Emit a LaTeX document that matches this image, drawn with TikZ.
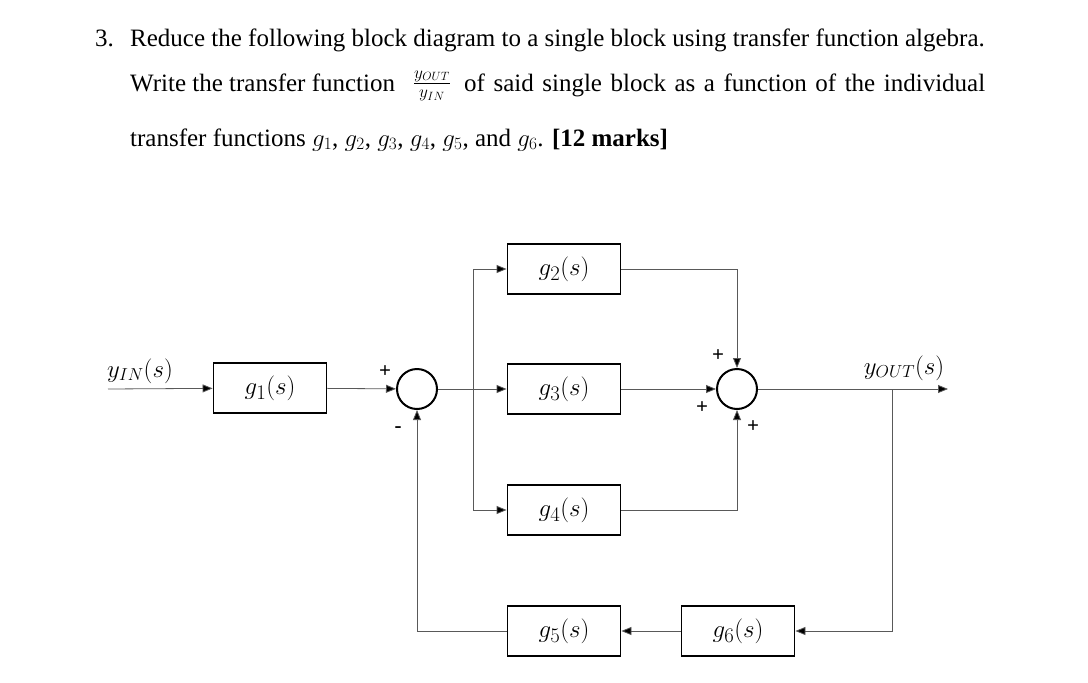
\documentclass[tikz,border=0pt]{standalone}
\usepackage{fontspec}
\setmainfont{Liberation Serif}
\usepackage{amsmath}
\usetikzlibrary{arrows.meta}
\begin{document}
\begin{tikzpicture}[x=1pt,y=-1pt,
  blk/.style={draw,line width=1.8pt,minimum width=113pt,minimum height=50pt,font=\fontsize{29}{32}\selectfont},
  sum/.style={draw,circle,line width=2pt,minimum size=40pt,inner sep=0pt},
  ln/.style={draw=black!65,line width=0.8pt},
  ar/.style={ln,-{Triangle[length=10pt,width=8pt,fill=black]}},
  sg/.style={font=\fontsize{21}{22}\selectfont\bfseries},
  tx/.style={anchor=base west,inner sep=0pt,font=\fontsize{25}{28}\selectfont}]
\useasboundingbox (0,0) rectangle (1088,683);
\node[tx] (t0) at (95,46) {3.};
\node[tx] (t1) at (130,46) {Reduce the following block diagram to a single block using transfer function algebra.};
\node[tx] (t2) at (130,91) {Write the transfer function};
\node[inner sep=0pt,font=\fontsize{26}{28}\selectfont] (fr) at (432,86) {$\frac{y_{OUT}}{y_{IN}}$};
\node[tx] (t3) at (464,91) {\makebox[521pt][s]{of said single block as a function of the individual}};
\node[tx] (t4) at (130,146) {transfer functions $g_1$, $g_2$, $g_3$, $g_4$, $g_5$, and $g_6$. \textbf{[12 marks]}};

\node[blk] (g1) at (270,388) {$g_1(s)$};
\node[blk] (g2) at (564,269) {$g_2(s)$};
\node[blk] (g3) at (564,389) {$g_3(s)$};
\node[blk] (g4) at (564,510) {$g_4(s)$};
\node[blk] (g5) at (564,631) {$g_5(s)$};
\node[blk] (g6) at (738,631) {$g_6(s)$};
\node[sum] (s1) at (417,389) {};
\node[sum] (s2) at (737,389) {};
\coordinate (in) at (108,389);
\coordinate (out) at (948,389);
\coordinate (br) at (473,389);
\coordinate (fb) at (892,389);
\node[font=\fontsize{27}{30}\selectfont] (yin) at (140,371) {$y_{IN}(s)$};
\node[font=\fontsize{27}{30}\selectfont] (yout) at (904,368) {$y_{OUT}(s)$};

\draw[ar] (in) -- (g1);
\draw[ar] (g1) -- (s1);
\draw[ar] (s1) -- (g3);
\draw[ln] (br|-g2) -- (br|-g4);
\draw[ar] (br|-g2) -- (g2);
\draw[ar] (br|-g4) -- (g4);
\draw[ar] (g2.east) -| (s2.north);
\draw[ar] (g3) -- (s2);
\draw[ar] (g4.east) -| (s2.south);
\draw[ar] (s2) -- (out);
\draw[ar] (fb) |- (g6.east);
\draw[ar] (g6) -- (g5);
\draw[ar] (g5.west) -| (s1.south);

\node[sg] (p1) at (385,372) {+};
\node[sg] (m1) at (398,430) {-};
\node[sg] (p2) at (718,356) {+};
\node[sg] (p3) at (702,408) {+};
\node[sg] (p4) at (753,427) {+};
\end{tikzpicture}
\end{document}
